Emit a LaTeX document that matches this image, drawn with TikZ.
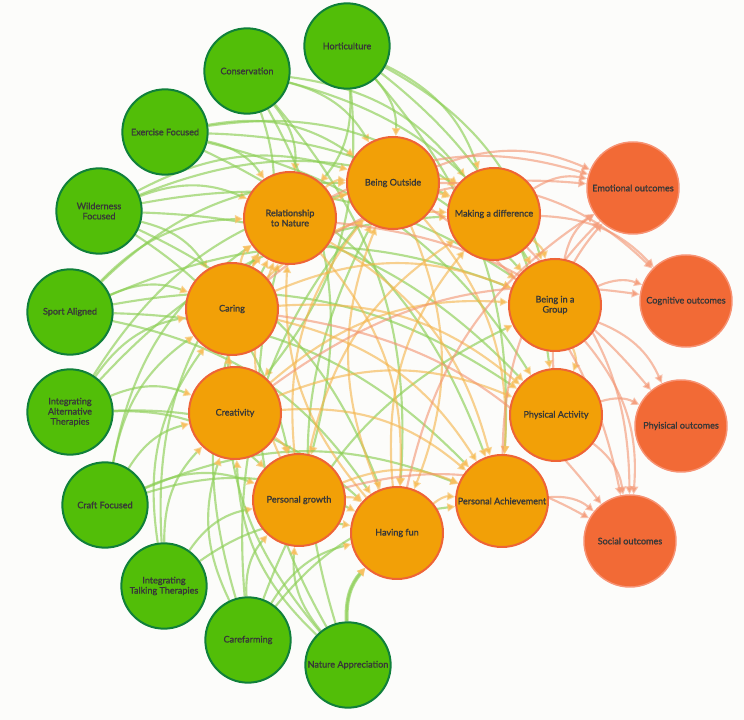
\documentclass[tikz,border=0pt]{standalone}
\usepackage{fontspec}
\setmainfont{Lato}
\newfontfamily\nf{Lato}[FakeBold=1.2]
\usetikzlibrary{arrows.meta}
\definecolor{bgc}{HTML}{FCFCFA}
\definecolor{gfill}{HTML}{52BE08}
\definecolor{gline}{HTML}{10803A}
\definecolor{ofill}{HTML}{F2A007}
\definecolor{oline}{HTML}{EE6436}
\definecolor{rfill}{HTML}{F26A36}
\definecolor{rline}{HTML}{F79273}
\definecolor{txt}{HTML}{383838}
\definecolor{gedge}{HTML}{8CCF55}
\definecolor{oedge}{HTML}{F5B448}
\definecolor{redge}{HTML}{F39370}
\definecolor{otip}{HTML}{F7C060}
\definecolor{rtip}{HTML}{F5A080}
\pgfdeclarelayer{bg}
\pgfsetlayers{bg,main}
\begin{document}
\begin{tikzpicture}[x=0.75pt,y=-0.75pt,
  every node/.style={font=\nf\fontsize{6.8}{7.6}\selectfont, text=txt, align=center, inner sep=0pt},
  gnode/.style={circle, fill=gfill, draw=gline, line width=1.5pt, minimum size=64pt},
  onode/.style={circle, fill=ofill, draw=oline, line width=1.5pt, minimum size=69pt},
  rnode/.style={circle, fill=rfill, draw=rline, line width=1.1pt, minimum size=69pt},
  ge/.style={draw=gedge, line width=1.6pt, draw opacity=0.65, -{Triangle[length=6pt,width=6pt,color=otip]}},
  oe/.style={draw=oedge, line width=1.6pt, draw opacity=0.6, -{Triangle[length=6pt,width=6pt,color=otip]}},
  re/.style={draw=redge, line width=1.6pt, draw opacity=0.6, -{Triangle[length=6pt,width=6pt,color=rtip]}}]
\useasboundingbox (0,0) rectangle (744,720);
% green
\node[gnode] (hort) at (347,46) {Horticulture};
\node[gnode] (cons) at (247,71) {Conservation};
\node[gnode] (ex) at (165,132) {Exercise Focused};
\node[gnode] (wild) at (99,211) {Wilderness\\Focused};
\node[gnode] (sport) at (70,312) {Sport Aligned};
\node[gnode] (alt) at (70,412) {Integrating\\Alternative\\Therapies};
\node[gnode] (craft) at (105,505) {Craft Focused};
\node[gnode] (talk) at (164,586) {Integrating\\Talking Therapies};
\node[gnode] (care) at (248,640) {Carefarming};
\node[gnode] (nat) at (348,665) {Nature Appreciation};
% orange
\node[onode] (rn) at (290,218) {Relationship\\to Nature};
\node[onode] (bo) at (393,183) {Being Outside};
\node[onode] (md) at (494,214) {Making a difference};
\node[onode] (big) at (555,305) {Being in a\\Group};
\node[onode] (pa) at (556,415) {Physical Activity};
\node[onode] (pach) at (502,501) {Personal Achievement};
\node[onode] (hf) at (397,533) {Having fun};
\node[onode] (pg) at (299,500) {Personal growth};
\node[onode] (cr) at (235,413) {Creativity};
\node[onode] (car) at (232,309) {Caring};
% red
\node[rnode] (emo) at (633,188) {Emotional outcomes};
\node[rnode] (cog) at (686,301) {Cognitive outcomes};
\node[rnode] (phys) at (681,426) {Phyisical outcomes};
\node[rnode] (soc) at (630,541) {Social outcomes};
\begin{pgfonlayer}{bg}
\fill[bgc] (0,0) rectangle (744,720);
\foreach \a/\b in {hort/rn,hort/bo,hort/md,hort/big,hort/pa,hort/pach,hort/cr,
  cons/rn,cons/bo,cons/md,cons/big,cons/car,cons/pg,cons/hf,
  ex/bo,ex/md,ex/big,ex/pa,ex/pach,ex/rn,
  wild/rn,wild/bo,wild/md,wild/big,wild/pa,wild/car,wild/pg,wild/hf,
  sport/rn,sport/bo,sport/pa,sport/big,sport/pach,sport/hf,sport/car,
  alt/cr,alt/car,alt/pg,alt/bo,alt/md,alt/hf,
  craft/cr,craft/pg,craft/car,craft/rn,craft/pach,craft/hf,
  talk/cr,talk/car,talk/pg,talk/hf,talk/rn,
  care/pg,care/hf,care/pach,care/cr,care/rn,care/bo,care/big,
  nat/hf,nat/pg,nat/cr,nat/car,nat/rn,nat/bo}
  \draw[ge] (\a) to[bend left=22] (\b);
\foreach \a/\b in {rn/bo,car/rn,cr/rn,pg/hf,hf/pach,car/md,cr/big,pg/md,hf/bo,
  bo/md,md/big,big/pa,car/pach,cr/pach,rn/md,pg/bo,hf/md,rn/hf,bo/hf,cr/pa,
  car/pa,rn/pach,bo/pach,pg/pach,cr/pg,car/big,pg/rn,hf/rn}
  \draw[oe] (\a) to[bend left=22] (\b);
\foreach \a/\b in {bo/emo,bo/cog,md/emo,md/cog,big/emo,big/cog,big/soc,pa/phys,
  pa/soc,pach/soc,pach/emo,rn/emo,hf/emo,pg/soc,car/emo,cr/cog,md/soc,bo/soc,
  car/soc,rn/phys,big/phys,pa/emo}
  \draw[re] (\a) to[bend left=22] (\b);
\draw[ge, line width=3pt] (nat) to[bend left=22] (hf);
\end{pgfonlayer}
\end{tikzpicture}
\end{document}
